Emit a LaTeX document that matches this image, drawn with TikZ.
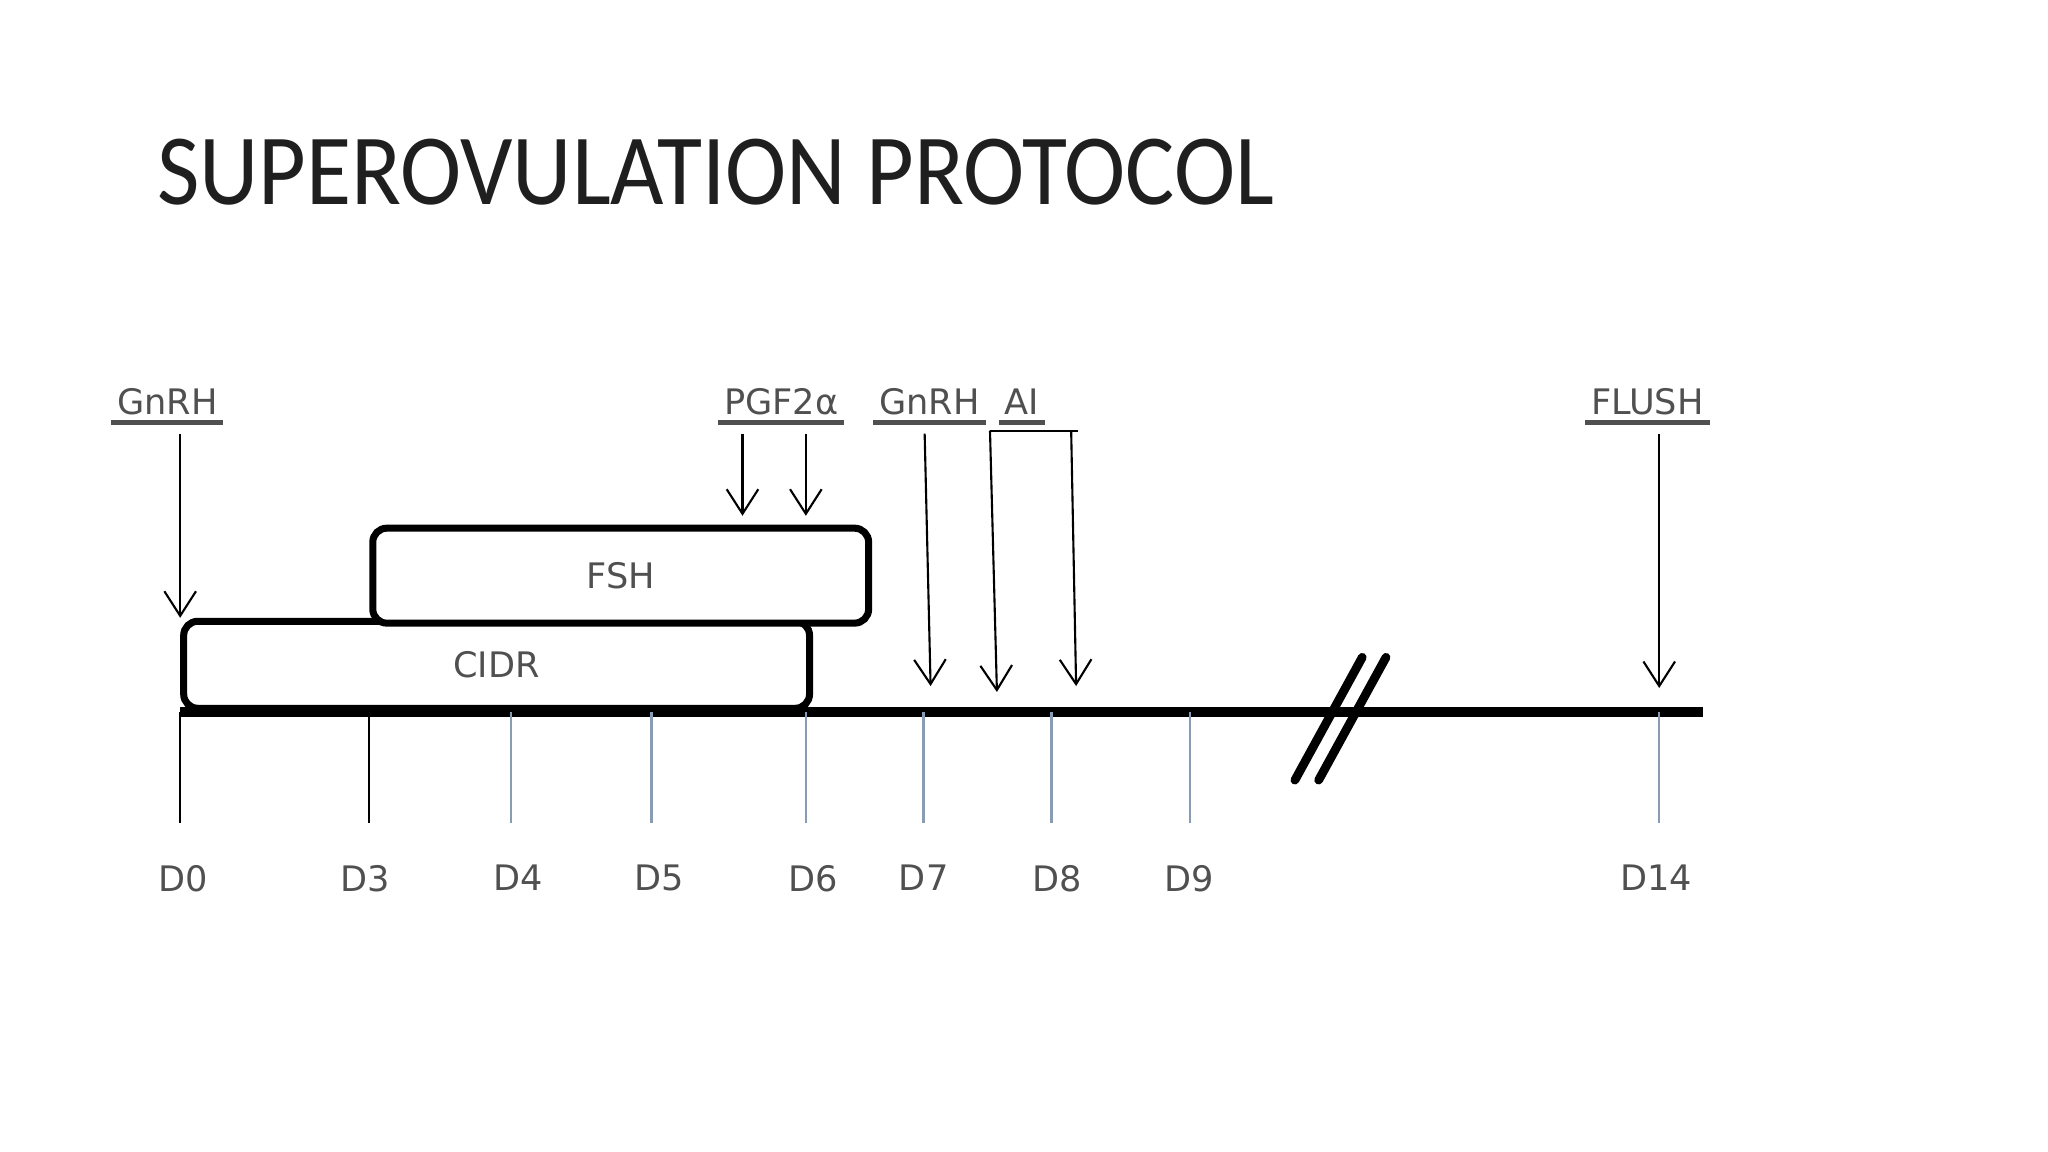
\documentclass[tikz,border=0pt]{standalone}
\usepackage{fontspec}
\setmainfont{DejaVu Sans}
\newfontfamily\titlefont{Carlito}
\usetikzlibrary{arrows.meta}
\definecolor{lblgray}{HTML}{505050}
\definecolor{tickblue}{HTML}{8A9BB4}
\tikzset{
  lbl/.style={text=lblgray, font=\fontsize{10}{12}\selectfont, inner xsep=1.5pt, inner ysep=0pt, text depth=0pt},
  uline/.style={draw=lblgray, line width=1.2pt},
  darr/.style={-{Straight Barb[length=7pt,width=9pt]}, line width=0.6pt},
  bar/.style={draw, line width=2pt, rounded corners=4pt, text=lblgray, font=\fontsize{10}{12}\selectfont},
}
\begin{document}
\begin{tikzpicture}[x=0.0099cm, y=-0.0099cm]
        \useasboundingbox (0,0) rectangle (2068.7,1163.6);
        \node[anchor=base west, inner sep=0pt, xscale=0.915, font=\titlefont\fontsize{28.7}{34}\selectfont, text=black!88] (title) at (158,207) {SUPEROVULATION PROTOCOL};

        % bars
        \node[bar, anchor=south west, minimum width=6.26cm, minimum height=0.87cm] (cidr) at (182,719) {CIDR};
        \node[bar, anchor=south west, fill=white, minimum width=4.96cm, minimum height=0.95cm] (fsh) at (373,633) {FSH};

        % time line and break
        \draw[line width=3pt] (182,719) coordinate (t0) -- (1720,719) coordinate (tend);
        \draw[line width=2.5pt, line cap=round] (1308,788) -- (1376,664);
        \draw[line width=2.5pt, line cap=round] (1332,788) -- (1400,664);

        % days
        \foreach \x/\lx/\d/\c in {182/185/0/black, 373/369/3/black, 516/523/4/tickblue, 658/666/5/tickblue, 814/821/6/tickblue, 933/933/7/tickblue, 1062/1068/8/tickblue, 1202/1201/9/tickblue, 1676/1673/14/tickblue}{
          \draw[\c, line width=0.7pt] (\x,719) -- (\x,831);
          \node[lbl] (d\d) at (\lx,887) {D\d};
        }

        % treatments
        \node[lbl, anchor=base] (gn1) at (169,419) {GnRH};
        \node[lbl, anchor=base] (pgf) at (789,419) {PGF2α};
        \node[lbl, anchor=base] (gn2) at (939,419) {GnRH};
        \node[lbl, anchor=base] (ai) at (1032,419) {AI};
        \node[lbl, anchor=base] (flush) at (1664,419) {FLUSH};
        \foreach \n in {gn1,pgf,gn2,ai,flush}
          \draw[uline] ([yshift=-2pt]\n.south west) -- ([yshift=-2pt]\n.south east);

        \coordinate (gn1s) at (182,438);
        \coordinate (pgfa) at (750,438);
        \coordinate (pgfb) at (814,438);
        \coordinate (gn2s) at (934,438);
        \coordinate (aia) at (1000,435);
        \coordinate (aib) at (1082,435);
        \coordinate (flushs) at (1676,438);

        \draw[darr] (gn1s) -- (cidr.north west);
        \draw[darr] (pgfa) -- (750,521);
        \draw[darr] (pgfb) -- (814,521);
        \draw[darr] (gn2s) -- (940,693);
        \draw[line width=0.6pt] (aia) -- (1089,435);
        \draw[darr] (aia) -- (1007,699);
        \draw[darr] (aib) -- (1087,693);
        \draw[darr] (flushs) -- (1676,695);
\end{tikzpicture}
\end{document}
